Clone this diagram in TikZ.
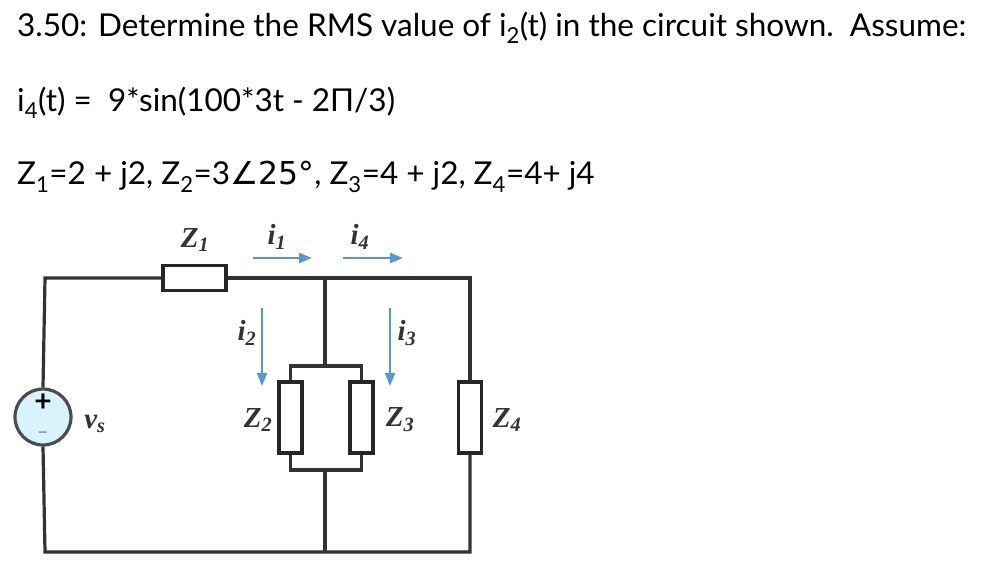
\documentclass[tikz,border=0pt]{standalone}
\usepackage{fontspec}
\setmainfont{Lato}
\newfontfamily\ser{Liberation Serif}
\newfontfamily\djvs{DejaVu Sans}
\usetikzlibrary{arrows.meta}
\begin{document}
\begin{tikzpicture}[x=1pt,y=-1pt,
  wire/.style={line width=3.2pt,color=black!80},
  res/.style={draw=black!85,line width=3.2pt,fill=white,inner sep=0pt},
  cur/.style={color=cyan!60!blue!70,line width=2.6pt,-{Triangle[length=13pt,width=10pt]}},
  lab/.style={font=\ser\bfseries\itshape\fontsize{29}{29}\selectfont,color=black!80,inner sep=0pt},
  txt/.style={font=\fontsize{31.5}{36}\selectfont,anchor=west,inner sep=0pt}]
\useasboundingbox (0,0) rectangle (990,574);
\node[txt] (t1) at (17,28) {3.50: Determine the RMS value of i\textsubscript{2}(t) in the circuit shown.\ \ Assume:};
\node[txt] (t2) at (17,103) {i\textsubscript{4}(t) = \ 9*sin(100*3t - 2\char"03A0/3)};
\node[txt] (t3) at (17,177) {Z\textsubscript{1}=2 + j2, Z\textsubscript{2}=3{\djvs\char"2220 25\textdegree}, Z\textsubscript{3}=4 + j2, Z\textsubscript{4}=4+ j4};
% nodes
\coordinate (tl) at (45,278); \coordinate (bl) at (45,552);
\coordinate (tm) at (325,278); \coordinate (bm) at (325,552);
\coordinate (tr) at (470,278); \coordinate (br) at (470,552);
\coordinate (pt) at (325,366); \coordinate (pb) at (325,470);
\node[circle,draw=black!70,line width=3.2pt,fill=cyan!15,minimum size=56pt,inner sep=0pt] (vs) at (43,417) {};
\node[font=\bfseries\fontsize{30}{30}\selectfont,inner sep=0pt] (plus) at (43,403) {+};
\node[font=\fontsize{20}{20}\selectfont,color=black!50,inner sep=0pt] (minus) at (43,435) {--};
\node[res,minimum width=63pt,minimum height=25pt] (z1) at (194.5,278) {};
\node[res,minimum width=23pt,minimum height=71pt] (z2) at (290.5,417.5) {};
\node[res,minimum width=23pt,minimum height=71pt] (z3) at (361.5,417.5) {};
\node[res,minimum width=23pt,minimum height=71pt] (z4) at (470,417.5) {};
\draw[wire] (vs.north) -- (tl) -- (z1.west);
\draw[wire] (z1.east) -- (tm) -- (tr) -- (z4.north);
\draw[wire] (z4.south) -- (br) -- (bm) -- (bl) -- (vs.south);
\draw[wire] (tm) -- (pt);
\draw[wire] (z2.north) |- (pt) -| (z3.north);
\draw[wire] (z2.south) |- (pb) -| (z3.south);
\draw[wire] (pb) -- (bm);
% currents
\coordinate (a1) at (253,258); \coordinate (b1) at (312,258);
\coordinate (a4) at (343,258); \coordinate (b4) at (403,258);
\coordinate (a2) at (262,308); \coordinate (b2) at (262,386);
\coordinate (a3) at (390,308); \coordinate (b3) at (390,386);
\draw[cur] (a1) -- (b1); \draw[cur] (a4) -- (b4);
\draw[cur] (a2) -- (b2); \draw[cur] (a3) -- (b3);
\node[lab] (lz1) at (195,240) {Z\textsubscript{1}};
\node[lab] (li1) at (277,237) {i\textsubscript{1}};
\node[lab] (li4) at (360,237) {i\textsubscript{4}};
\node[lab] (li2) at (247,333) {i\textsubscript{2}};
\node[lab] (li3) at (407,333) {i\textsubscript{3}};
\node[lab] (lz2) at (258,420) {Z\textsubscript{2}};
\node[lab] (lz3) at (400,420) {Z\textsubscript{3}};
\node[lab] (lz4) at (507,420) {Z\textsubscript{4}};
\node[lab] (lvs) at (95,424) {v\textsubscript{s}};
\end{tikzpicture}
\end{document}
